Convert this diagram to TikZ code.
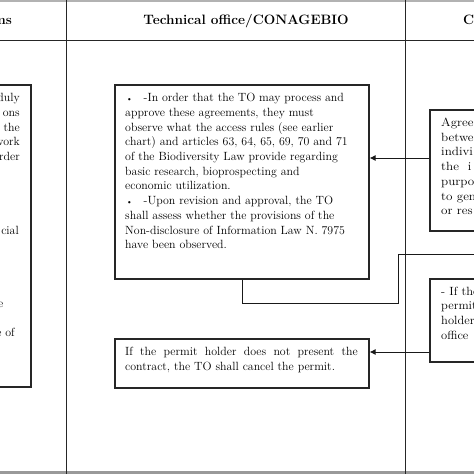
\documentclass[tikz,border=0pt]{standalone}
\usetikzlibrary{arrows.meta}
\begin{document}
\begin{tikzpicture}[x=1pt,y=-1pt,
  box/.style={draw=black!85, line width=1.15pt, inner sep=0pt},
  colline/.style={draw=black!85, line width=0.9pt},
  conn/.style={draw=black!90, line width=0.9pt},
  arr/.style={conn, -{Latex[length=6pt,width=6pt]}},
  txt/.style={font=\fontsize{11.9}{14.7}\selectfont, inner sep=0pt},
  hdr/.style={font=\fontsize{13.6}{15}\selectfont\bfseries, inner sep=0pt}]
\useasboundingbox (0,0) rectangle (474,474);
\clip (0,0) rectangle (474,474);
% outer gray borders
\fill[black!30] (0,0) rectangle (474,1.8);
\fill[black!40] (0,471) rectangle (474,474);
% table lines
\draw[colline] (0,40) -- (474,40);
\draw[colline] (66.5,0) -- (66.5,474);
\draw[colline] (405,0) -- (405,474);
% headers
\node[hdr, anchor=base east] (h1) at (12,24) {ns};
\node[hdr, anchor=base] (h2) at (246,24) {Technical office/CONAGEBIO};
\node[hdr, anchor=base west] (h3) at (463,24) {C};
% boxes
\node[box, minimum width=111pt, minimum height=302pt] (L) at (-24.5,236) {};
\node[box, minimum width=254pt, minimum height=194pt] (TO) at (242,182) {};
\node[box, minimum width=110pt, minimum height=121pt] (R1) at (485,170.5) {};
\node[box, minimum width=110pt, minimum height=83pt] (R2) at (485,320.5) {};
\node[box, minimum width=254pt, minimum height=49pt] (CB) at (242,363.5) {};
% left box text fragments
\node[txt, anchor=base east] (l0) at (20,101.7) {duly};
\node[txt, anchor=base east] (l1) at (20,116.4) {ons};
\node[txt, anchor=base east] (l2) at (20,131.1) {the};
\node[txt, anchor=base east] (l3) at (20,145.8) {work};
\node[txt, anchor=base east] (l4) at (20,160.5) {rder};
\node[txt, anchor=base east] (l5) at (19,234) {cial};
\node[txt, anchor=base east] (l6) at (3.5,307.5) {e};
\node[txt, anchor=base east] (l7) at (15,336.9) {e of};
% TO box text
\foreach \t [count=\i from 0] in {
  {\makebox[18.5pt][l]{\hspace{1pt}{\fontsize{8}{8}\selectfont\textbullet}}-In order that the TO may process and},
  {approve these agreements, they must},
  {observe what the access rules (see earlier},
  {chart) and articles 63, 64, 65, 69, 70 and 71},
  {of the Biodiversity Law provide regarding},
  {basic research, bioprospecting and},
  {economic utilization.},
  {\makebox[18.5pt][l]{\hspace{1pt}{\fontsize{8}{8}\selectfont\textbullet}}-Upon revision and approval, the TO},
  {shall assess whether the provisions of the},
  {Non-disclosure of Information Law N. 7975},
  {have been observed.}}
  \node[txt, anchor=base west] (to\i) at (125,101.7+14.7*\i) {\t};
% right box 1 fragments
\foreach \t [count=\i from 0] in {Agree, betwe, indivi, {the\hspace{8pt}i}, purpo, to gen, or res}
  \node[txt, anchor=base west] (ra\i) at (441,126.5+14.7*\i) {\scalebox{1.1}[1]{\t}};
% right box 2 fragments
\foreach \t [count=\i from 0] in {- If the, permit, holder, office}
  \node[txt, anchor=base west] (rb\i) at (441,295+14.7*\i) {\scalebox{1.05}[1]{\t}};
% cancel box text
\node[txt, anchor=base west] (c0) at (125,355) {\makebox[232.5pt][s]{If the permit holder does not present the}};
\node[txt, anchor=base west] (c1) at (125,370.5) {contract, the TO shall cancel the permit.};
% connectors
\coordinate (ya) at (0,158);
\coordinate (yb) at (0,352);
\coordinate (out) at (480,254);
\draw[arr] (R1.west |- ya) -- (TO.east |- ya);
\draw[arr] (R2.west |- yb) -- (CB.east |- yb);
\draw[conn] (TO.south) |- (398,303) |- (out);
\end{tikzpicture}
\end{document}
